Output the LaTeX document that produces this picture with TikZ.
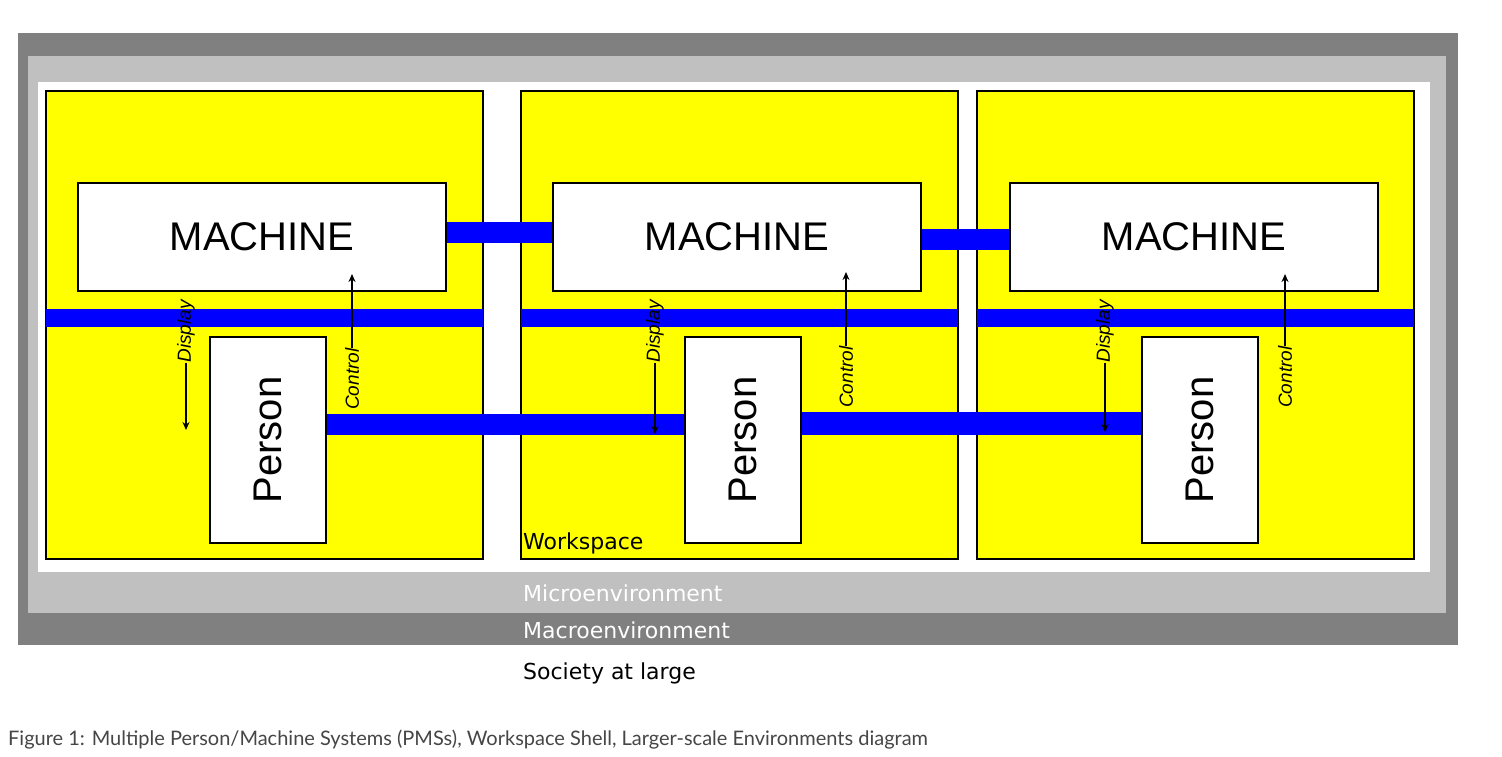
\documentclass[tikz,border=0pt]{standalone}
\usepackage{fontspec}
\setmainfont{Liberation Sans}
\newfontfamily\verd{DejaVu Sans}
\newfontfamily\lato{Lato}
\usetikzlibrary{arrows.meta}
\definecolor{ylw}{RGB}{255,255,0}
\definecolor{blu}{RGB}{0,0,255}
\definecolor{dgray}{RGB}{128,128,128}
\definecolor{lgray}{RGB}{192,192,192}
\definecolor{capgray}{RGB}{70,70,70}
\tikzset{
  panel/.style={draw=black,line width=2pt,fill=ylw},
  box/.style={draw=black,line width=2pt,fill=white},
  band/.style={fill=blu},
  lbl/.style={font=\fontsize{19}{19}\selectfont\itshape,rotate=90,inner sep=0pt},
  arr/.style={line width=2pt,-{Stealth[length=8pt,width=7pt]}},
}
\begin{document}
\begin{tikzpicture}[x=1pt,y=-1pt]
\useasboundingbox (0,0) rectangle (1502,756);
\fill[white] (0,0) rectangle (1502,756);
\fill[dgray] (18,33) rectangle (1458,645);
\fill[lgray] (28,56) rectangle (1446,613);
\fill[white] (38,82) rectangle (1430,572);
\foreach \x in {46,521,977}{
  \draw[panel] (\x,91) rectangle ++(437,468);
  \fill[band] (\x,309) rectangle ++(437,18);
}
\fill[band] (446,222) rectangle (553,243);
\fill[band] (921,229) rectangle (1010,250);
\fill[band] (326,414) rectangle (685,435);
\fill[band] (801,412) rectangle (1142,435);
\node[box,minimum width=368,minimum height=108,font=\fontsize{40}{40}\selectfont] (m1) at (262,237) {MACHINE};
\node[box,minimum width=368,minimum height=108,font=\fontsize{40}{40}\selectfont] (m2) at (737,237) {MACHINE};
\node[box,minimum width=368,minimum height=108,font=\fontsize{40}{40}\selectfont] (m3) at (1194,237) {MACHINE};
\node[box,minimum width=206,minimum height=116,rotate=90,font=\fontsize{40}{40}\selectfont] (p1) at (268,440) {Person};
\node[box,minimum width=206,minimum height=116,rotate=90,font=\fontsize{40}{40}\selectfont] (p2) at (743,440) {Person};
\node[box,minimum width=206,minimum height=116,rotate=90,font=\fontsize{40}{40}\selectfont] (p3) at (1200,440) {Person};
% Display labels
\node[lbl,anchor=east] (d1) at (186,300) {Display};
\node[lbl,anchor=east] (d2) at (655,300) {Display};
\node[lbl,anchor=east] (d3) at (1105,300) {Display};
\coordinate (d1e) at (186,430);
\coordinate (d2e) at (655,434);
\coordinate (d3e) at (1105,432);
\draw[arr] (d1.west) -- (d1e);
\draw[arr,-{Stealth[length=8pt,width=7pt,fill=white]}] (d2.west) -- (d2e);
\draw[arr,-{Stealth[length=8pt,width=7pt,fill=white]}] (d3.west) -- (d3e);
% Control labels
\node[lbl,anchor=west] (c1) at (352,410) {Control};
\node[lbl,anchor=west] (c2) at (846,408) {Control};
\node[lbl,anchor=west] (c3) at (1285,408) {Control};
\coordinate (c1e) at (352,274);
\coordinate (c2e) at (846,272);
\coordinate (c3e) at (1285,274);
\draw[line width=2pt,-{Stealth[length=8pt,width=7pt,open]}] (c1.east) -- (c1e);
\draw[line width=2pt,-{Stealth[length=8pt,width=7pt,open]}] (c2.east) -- (c2e);
\draw[line width=2pt,-{Stealth[length=8pt,width=7pt,open]}] (c3.east) -- (c3e);
% environment labels
\node[anchor=west,inner sep=1pt,font=\verd\fontsize{22}{22}\selectfont] (ws) at (522,543) {Workspace};
\node[anchor=west,inner sep=1pt,text=white,font=\verd\fontsize{22}{22}\selectfont] (mi) at (522,593) {Microenvironment};
\node[anchor=west,inner sep=1pt,text=white,font=\verd\fontsize{22}{22}\selectfont] (ma) at (522,630) {Macroenvironment};
\node[anchor=west,inner sep=1pt,font=\verd\fontsize{22}{22}\selectfont] (so) at (522,673) {Society at large};
\node[anchor=west,inner sep=0pt,text=capgray,font=\lato\fontsize{20}{20}\selectfont] (cap) at (8,740) {Figure 1: Multiple Person/Machine Systems (PMSs), Workspace Shell, Larger-scale Environments diagram};
\end{tikzpicture}
\end{document}
